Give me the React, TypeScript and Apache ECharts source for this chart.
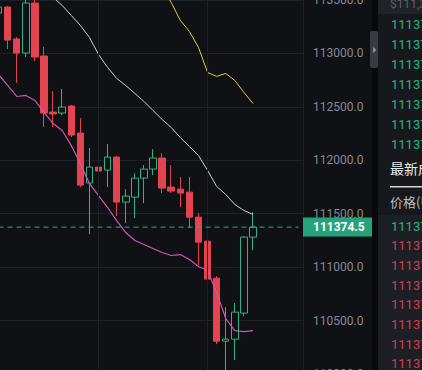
import React, { useEffect, useRef } from 'react';
import * as echarts from 'echarts';

// 34 time slots (29 candles + 5 empty future slots)
const times = [
  '08:00', '08:15', '08:30', '08:45', '09:00', '09:15', '09:30', '09:45',
  '10:00', '10:15', '10:30', '10:45', '11:00', '11:15', '11:30', '11:45',
  '12:00', '12:15', '12:30', '12:45', '13:00', '13:15', '13:30', '13:45',
  '14:00', '14:15', '14:30', '14:45', '15:00', '15:15', '15:30', '15:45',
  '16:00', '16:15',
];

// [open, close, low, high]
const candles: number[][] = [
  [113378, 113434, 113360, 113453],
  [113434, 113125, 113041, 113445],
  [113135, 113004, 112723, 113154],
  [113004, 113472, 112966, 113519],
  [113472, 112966, 112929, 113519],
  [112976, 112442, 112311, 113060],
  [112451, 112433, 112311, 112648],
  [112442, 112498, 112423, 112667],
  [112508, 112236, 112217, 112517],
  [112255, 111768, 111749, 112395],
  [111787, 111936, 111309, 112114],
  [111936, 111899, 111609, 112114],
  [111908, 112030, 111749, 112152],
  [112030, 111609, 111478, 112039],
  [111609, 111665, 111412, 111730],
  [111655, 111833, 111459, 111880],
  [111833, 111918, 111599, 111955],
  [111918, 112021, 111861, 112105],
  [112021, 111740, 111693, 112067],
  [111749, 111712, 111693, 111955],
  [111730, 111693, 111562, 111843],
  [111702, 111468, 111365, 111843],
  [111468, 111234, 111019, 111506],
  [111243, 110888, 110803, 111290],
  [110897, 110307, 110279, 110916],
  [110307, 110326, 109989, 110626],
  [110326, 110579, 110130, 110663],
  [110570, 111281, 110541, 111290],
  [111281, 111374.5, 111159, 111515],
];

const ma7 = [
  112803, 112700, 112597, 112607, 112560, 112448, 112345, 112279, 112139, 111970,
  111783, 111670, 111558, 111436, 111324, 111249, 111212, 111174, 111137, 111109,
  111118, 111071, 111006, 110968, 110762, 110519, 110406, 110397, 110406,
];

const ma25 = [
  114011, 113927, 113843, 113758, 113674, 113590, 113524, 113449, 113356, 113262,
  113150, 112991, 112869, 112766, 112700, 112625, 112551, 112466, 112382, 112307,
  112213, 112129, 112045, 111905, 111755, 111680, 111586, 111530, 111493,
];

const ma99: (number | string)[] = [
  '-', '-', '-', '-', '-', '-', '-', '-', '-', '-',
  '-', '-', '-', '-', '-', '-', 113899, 113758, 113618, 113477,
  113309, 113206, 113056, 112822, 112785, 112813, 112747, 112635, 112532,
];

const lastPrice = 111374.5;
const gridTimes = ['10:45', '13:45'];

const yMin = 110000;
const yMax = 113500;
const yStep = 500;

const upperBook = ['111376.1', '111375.9', '111375.7', '111375.5', '111375.2', '111375.0', '111374.8'];
const lowerBook = ['111374.5', '111374.4', '111374.3', '111374.2', '111374.1', '111374.0', '111373.9', '111373.8'];
const lowerSide = ['up', 'down', 'down', 'down', 'down', 'down', 'down', 'down'];

const UP = '#31b386';
const DOWN = '#e4444f';
const BG = '#0f1114';
const GRID = '#1d2024';
const PRICE_LINE = '#2db585';

export default function App() {
  const ref = useRef<HTMLDivElement>(null);

  useEffect(() => {
    document.body.style.margin = '0';
    document.body.style.background = BG;
    if (!ref.current) return;
    const chart = echarts.init(ref.current, undefined, { renderer: 'svg' });

    const font = 'Roboto';
    const graphics: any[] = [];
    graphics.push({ type: 'rect', shape: { x: 372, y: 0, width: 6, height: 370 }, style: { fill: '#08090b' }, z: 10 });
    graphics.push({ type: 'rect', shape: { x: 378, y: 0, width: 44, height: 215 }, style: { fill: '#16181c' }, z: 10 });
    graphics.push({ type: 'rect', shape: { x: 378, y: 215, width: 44, height: 155 }, style: { fill: '#1c1f23' }, z: 10 });
    graphics.push({ type: 'rect', shape: { x: 378, y: 0, width: 44, height: 14 }, style: { fill: '#1f2226' }, z: 11 });
    graphics.push({
      type: 'text', x: 390, y: 4, z: 12,
      style: { text: '$111,374.50', fill: '#5b606a', fontSize: 12, fontFamily: font, verticalAlign: 'middle' },
    });
    upperBook.forEach((t, i) => {
      graphics.push({
        type: 'text', x: 391, y: 24 + i * 20, z: 12,
        style: { text: t, fill: '#2fb383', fontSize: 13, fontFamily: font, verticalAlign: 'middle' },
      });
    });
    graphics.push({
      type: 'text', x: 390, y: 168, z: 12,
      style: { text: '最新成交', fill: '#e6e8eb', fontSize: 14, fontFamily: 'Noto Sans CJK SC', verticalAlign: 'middle' },
    });
    graphics.push({ type: 'rect', shape: { x: 390, y: 186, width: 32, height: 1.5 }, style: { fill: '#d4d6da' }, z: 12 });
    graphics.push({
      type: 'text', x: 390, y: 201, z: 12,
      style: { text: '价格(USDT)', fill: '#b9bec6', fontSize: 13, fontFamily: 'Noto Sans CJK SC', verticalAlign: 'middle' },
    });
    lowerBook.forEach((t, i) => {
      graphics.push({
        type: 'text', x: 391, y: 226 + i * 19.7, z: 12,
        style: {
          text: t, fill: lowerSide[i] === 'up' ? '#2fb383' : '#cf4053',
          fontSize: 13, fontFamily: font, verticalAlign: 'middle',
        },
      });
    });
    graphics.push({ type: 'rect', shape: { x: 370, y: 31, width: 8, height: 37, r: 2 }, style: { fill: '#383b41' }, z: 13 });
    graphics.push({ type: 'polygon', shape: { points: [[373, 47], [373, 53], [376.5, 50]] }, style: { fill: '#8e9196' }, z: 14 });

    chart.setOption({
      animation: false,
      backgroundColor: BG,
      grid: { left: -6, right: 119, top: 0, bottom: -4, containLabel: false, outerBoundsMode: 'none' },
      xAxis: {
        type: 'category',
        data: times,
        boundaryGap: true,
        axisLine: { show: false },
        axisTick: { show: false },
        axisLabel: { show: false },
        splitLine: { show: false },
      },
      yAxis: {
        type: 'value',
        position: 'right',
        min: yMin,
        max: yMax,
        interval: yStep,
        axisLine: { show: true, lineStyle: { color: GRID } },
        axisTick: { show: false },
        splitLine: { show: true, lineStyle: { color: GRID, width: 1 } },
        axisLabel: {
          show: true,
          margin: 10,
          color: '#868b95',
          fontSize: 12,
          fontFamily: font,
          formatter: (v: number) => v.toFixed(1),
          showMinLabel: true,
          showMaxLabel: true,
        },
      },
      series: [
        {
          type: 'line',
          data: times.map(() => '-'),
          z: 1,
          silent: true,
          markLine: {
            silent: true,
            symbol: 'none',
            label: { show: false },
            lineStyle: { color: GRID, type: 'solid', width: 1 },
            data: gridTimes.map((t) => ({ xAxis: t })),
          },
        },
        {
          type: 'candlestick',
          data: candles,
          barWidth: 7,
          z: 3,
          itemStyle: {
            color: BG,
            color0: DOWN,
            borderColor: UP,
            borderColor0: DOWN,
            borderWidth: 1,
          },
        },
        {
          // last price dashed line
          type: 'line',
          data: times.map(() => lastPrice),
          z: 5,
          silent: true,
          showSymbol: false,
          clip: false,
          lineStyle: { color: PRICE_LINE, type: [5, 4], width: 1 },
          markLine: {
            silent: true,
            symbol: 'none',
            lineStyle: { color: 'rgba(0,0,0,0)', width: 0 },
            label: {
              show: true,
              position: 'end',
              distance: 0,
              opacity: 1,
              formatter: () => lastPrice.toFixed(1),
              backgroundColor: '#27a37a',
              color: '#ffffff',
              fontWeight: 'bold',
              fontSize: 12,
              fontFamily: font,
              padding: [4, 9, 3, 10],
            },
            data: [{ yAxis: lastPrice }],
          },
        },
        {
          type: 'line',
          data: ma7,
          showSymbol: false,
          z: 4,
          lineStyle: { color: '#d454b0', width: 1.2 },
        },
        {
          type: 'line',
          data: ma25,
          showSymbol: false,
          z: 4,
          lineStyle: { color: '#cfd0d2', width: 1 },
        },
        {
          type: 'line',
          data: ma99,
          showSymbol: false,
          z: 4,
          lineStyle: { color: '#e2cf36', width: 1 },
        },
      ],
      graphic: graphics,
    });

    return () => chart.dispose();
  }, []);

  return <div ref={ref} style={{ width: 422, height: 370, background: BG }} />;
}
